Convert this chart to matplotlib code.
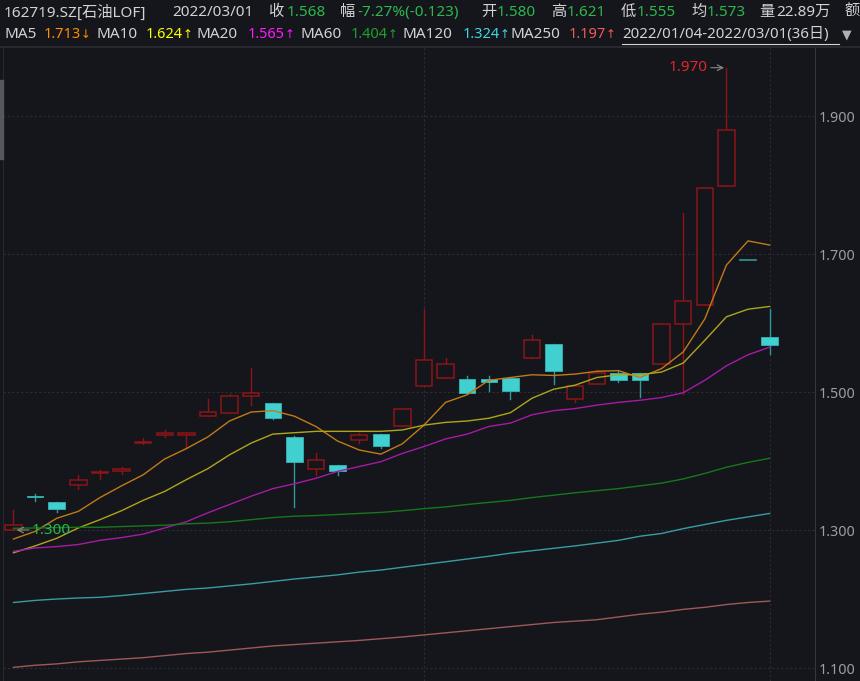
import matplotlib
matplotlib.use('Agg')
import matplotlib.pyplot as plt
from matplotlib.patches import Rectangle
from matplotlib.lines import Line2D
from matplotlib import ticker

plt.rcParams['font.family'] = ['Noto Sans', 'Noto Sans CJK SC', 'DejaVu Sans']

# daily OHLC, 2022/01/04 - 2022/03/01 (36 trading days)
opens  = [1.300, 1.349, 1.340, 1.365, 1.383, 1.385, 1.426, 1.437, 1.437, 1.465,
          1.469, 1.494, 1.484, 1.435, 1.389, 1.394, 1.431, 1.439, 1.451, 1.509,
          1.520, 1.519, 1.519, 1.521, 1.550, 1.570, 1.490, 1.511, 1.528, 1.527,
          1.540, 1.598, 1.626, 1.799, 1.691, 1.580]
highs  = [1.329, 1.352, 1.340, 1.380, 1.387, 1.391, 1.434, 1.445, 1.441, 1.490,
          1.497, 1.535, 1.484, 1.436, 1.412, 1.394, 1.440, 1.439, 1.476, 1.620,
          1.550, 1.523, 1.523, 1.521, 1.583, 1.570, 1.509, 1.532, 1.531, 1.527,
          1.598, 1.759, 1.795, 1.970, 1.691, 1.621]
lows   = [1.300, 1.342, 1.326, 1.360, 1.374, 1.381, 1.424, 1.435, 1.421, 1.465,
          1.469, 1.481, 1.461, 1.334, 1.380, 1.380, 1.426, 1.419, 1.451, 1.509,
          1.520, 1.498, 1.502, 1.490, 1.550, 1.511, 1.486, 1.511, 1.515, 1.493,
          1.540, 1.497, 1.626, 1.799, 1.691, 1.555]
closes = [1.307, 1.348, 1.331, 1.373, 1.384, 1.388, 1.427, 1.441, 1.441, 1.471,
          1.494, 1.499, 1.463, 1.399, 1.402, 1.385, 1.437, 1.422, 1.476, 1.547,
          1.540, 1.498, 1.515, 1.501, 1.575, 1.530, 1.509, 1.528, 1.517, 1.517,
          1.598, 1.632, 1.795, 1.879, 1.691, 1.568]

ma5   = [1.287, 1.298, 1.317, 1.327, 1.347, 1.364, 1.380, 1.403, 1.418, 1.435,
         1.458, 1.471, 1.473, 1.465, 1.450, 1.429, 1.416, 1.410, 1.425, 1.452,
         1.485, 1.496, 1.517, 1.521, 1.525, 1.524, 1.526, 1.530, 1.531, 1.521,
         1.534, 1.558, 1.606, 1.684, 1.719, 1.713]
ma10  = [1.267, 1.277, 1.288, 1.303, 1.315, 1.328, 1.343, 1.356, 1.373, 1.389,
         1.409, 1.426, 1.439, 1.441, 1.443, 1.443, 1.443, 1.443, 1.445, 1.452,
         1.456, 1.458, 1.462, 1.470, 1.491, 1.504, 1.510, 1.521, 1.525, 1.525,
         1.529, 1.542, 1.575, 1.609, 1.620, 1.624]
ma20  = [1.269, 1.274, 1.276, 1.279, 1.285, 1.289, 1.294, 1.303, 1.312, 1.325,
         1.337, 1.349, 1.360, 1.367, 1.375, 1.385, 1.392, 1.399, 1.411, 1.421,
         1.432, 1.439, 1.450, 1.455, 1.467, 1.473, 1.476, 1.481, 1.485, 1.488,
         1.492, 1.499, 1.517, 1.538, 1.554, 1.565]
ma60  = [1.3025, 1.303, 1.3035, 1.304, 1.304, 1.305, 1.306, 1.307, 1.309, 1.310,
         1.312, 1.315, 1.318, 1.320, 1.321, 1.3225, 1.324, 1.3255, 1.328, 1.331,
         1.3335, 1.337, 1.340, 1.343, 1.347, 1.3505, 1.354, 1.357, 1.360, 1.364,
         1.368, 1.374, 1.382, 1.391, 1.398, 1.404]
ma120 = [1.195, 1.198, 1.200, 1.2015, 1.2025, 1.205, 1.208, 1.211, 1.214, 1.216,
         1.219, 1.222, 1.2255, 1.229, 1.232, 1.235, 1.239, 1.242, 1.246, 1.250,
         1.254, 1.258, 1.262, 1.2665, 1.270, 1.2735, 1.277, 1.281, 1.285, 1.291,
         1.295, 1.302, 1.308, 1.314, 1.319, 1.324]
ma250 = [1.101, 1.104, 1.106, 1.109, 1.111, 1.113, 1.115, 1.118, 1.121, 1.123,
         1.126, 1.129, 1.132, 1.134, 1.136, 1.138, 1.140, 1.1425, 1.145, 1.148,
         1.151, 1.154, 1.157, 1.160, 1.163, 1.166, 1.168, 1.170, 1.174, 1.178,
         1.181, 1.185, 1.188, 1.192, 1.195, 1.197]

y_ticks = [1.1, 1.3, 1.5, 1.7, 1.9]
month_starts = [19, 35]   # 2022/02/07, 2022/03/01

BG = '#14161b'
RED = '#8e1418'
CYAN = '#40d0d0'
CYAN_W = '#2e9a9c'
W, H = 860, 681

fig = plt.figure(figsize=(W / 100, H / 100), dpi=100, facecolor=BG)
ax = fig.add_axes([3 / W, 0, (815 - 3) / W, (H - 47) / H])
ax.set_facecolor(BG)

n = len(closes)
xs = list(range(n))
bw = 0.76

for i in xs:
    o, h, l, c = opens[i], highs[i], lows[i], closes[i]
    if c >= o and not (o == c == h == l):
        ax.plot([i, i], [l, h], color=RED, lw=1.0, zorder=3)
        ax.add_patch(Rectangle((i - bw / 2, o), bw, max(c - o, 0.0008),
                               facecolor=BG, edgecolor=RED, lw=1.1, zorder=4))
    elif o == c:
        ax.plot([i - bw / 2, i + bw / 2], [c, c], color=CYAN_W, lw=1.2, zorder=4)
    else:
        ax.plot([i, i], [l, h], color=CYAN_W, lw=1.0, zorder=3)
        ax.add_patch(Rectangle((i - bw / 2, c), bw, max(o - c, 0.0008),
                               facecolor=CYAN, edgecolor='#36b4b6', lw=0.6, zorder=4))

ma_styles = [(ma5, '#c27a18'), (ma10, '#aea61a'), (ma20, '#a61aa6'),
             (ma60, '#16781a'), (ma120, '#3a9ca2'), (ma250, '#a05858')]
for vals, col in ma_styles:
    ax.plot(xs, vals, color=col, lw=1.0, zorder=5)

# max / min markers
imax = highs.index(max(highs))
imin = lows.index(min(lows))
ax.annotate('', xy=(imax + 0.02, highs[imax]), xytext=(imax - 0.85, highs[imax]),
            arrowprops=dict(arrowstyle='->', color='#8a8a8a', lw=0.8), zorder=6)
ax.text(imax - 0.85, highs[imax], '%.3f' % highs[imax], color='#e0262c',
        fontsize=11, ha='right', va='center', zorder=6)
ax.annotate('', xy=(imin + 0.02, lows[imin]), xytext=(imin + 0.85, lows[imin]),
            arrowprops=dict(arrowstyle='->', color='#8a8a8a', lw=0.8), zorder=6)
ax.text(imin + 0.85, lows[imin], '%.3f' % lows[imin], color='#2cb84c',
        fontsize=11, ha='left', va='center', zorder=6)

ax.set_xlim(-0.486, 37.1)
ax.set_ylim(1.0812, 2.0)
ax.yaxis.tick_right()
ax.yaxis.set_major_locator(ticker.FixedLocator(y_ticks))
ax.yaxis.set_major_formatter(ticker.FormatStrFormatter('%.3f'))
ax.tick_params(axis='y', length=0, pad=3, labelsize=10.3, labelcolor='#9c9ea4')
ax.set_xticks([])
for y in y_ticks:
    ax.axhline(y, color='#2a2d33', lw=0.8, ls=(0, (2, 2)), zorder=1)
for m in month_starts:
    ax.axvline(m, color='#2a2d33', lw=0.8, ls=(0, (2, 2)), zorder=1)
for s in ['top', 'bottom']:
    ax.spines[s].set_visible(False)
ax.spines['right'].set_color('#33363c')
ax.spines['left'].set_color('#26282d')

# header
renderer = fig.canvas.get_renderer()

def htext(x, y, s, color='#d2d2d4', size=11.0, ha='left', family=None):
    kw = {} if family is None else {'family': family}
    return fig.text(x / W, 1 - y / H, s, color=color, fontsize=size, ha=ha,
                    va='center', **kw)

GRN = '#2cb84c'
L1, L2 = 12.5, 34.5
htext(4, L1, '162719.SZ[石油LOF]')
htext(172, L1, '2022/03/01')
htext(268, L1, '收')
htext(287, L1, '1.568', GRN)
htext(340, L1, '幅')
htext(357, L1, '-7.27%(-0.123)', GRN)
htext(481, L1, '开')
htext(497, L1, '1.580', GRN)
htext(551, L1, '高')
htext(567, L1, '1.621', GRN)
htext(621, L1, '低')
htext(637, L1, '1.555', GRN)
htext(691, L1, '均')
htext(707, L1, '1.573', GRN)
htext(759, L1, '量')
htext(776, L1, '22.89万')
htext(844, L1, '额')

ma_labels = [('MA5', 4, '1.713', 44, '↓', '#ff8c00'),
             ('MA10', 96, '1.624', 146, '↑', '#ffff00'),
             ('MA20', 197, '1.565', 248, '↑', '#ff19ff'),
             ('MA60', 301, '1.404', 351, '↑', '#1fa12a'),
             ('MA120', 402, '1.324', 463, '↑', '#3fd8e0'),
             ('MA250', 510, '1.197', 569, '↑', '#f25a5a')]
for name, xn, val, xv, arr, col in ma_labels:
    htext(xn, L2, name)
    t = htext(xv, L2, val, col, size=10.5)
    x_end = t.get_window_extent(renderer).x1
    htext(x_end + 4.5, L2, arr, col, size=8.5, ha='center', family='DejaVu Sans')
htext(622, L2, '2022/01/04-2022/03/01(36日)', size=10.8)
htext(842, L2, '▼', '#b0b0b0', 9, family='DejaVu Sans')
fig.add_artist(Line2D([622 / W, 839 / W], [1 - 43.5 / H] * 2, color='#d2d2d4', lw=0.8))

fig.add_artist(Line2D([0, 1], [1 - 46.5 / H] * 2, color='#2c2e34', lw=1.2))
fig.add_artist(Rectangle((0, 1 - 159 / H), 2.7 / W, 79 / H, color='#55575f',
                         transform=fig.transFigure))

fig.savefig('out.png', dpi=100, facecolor=BG)
